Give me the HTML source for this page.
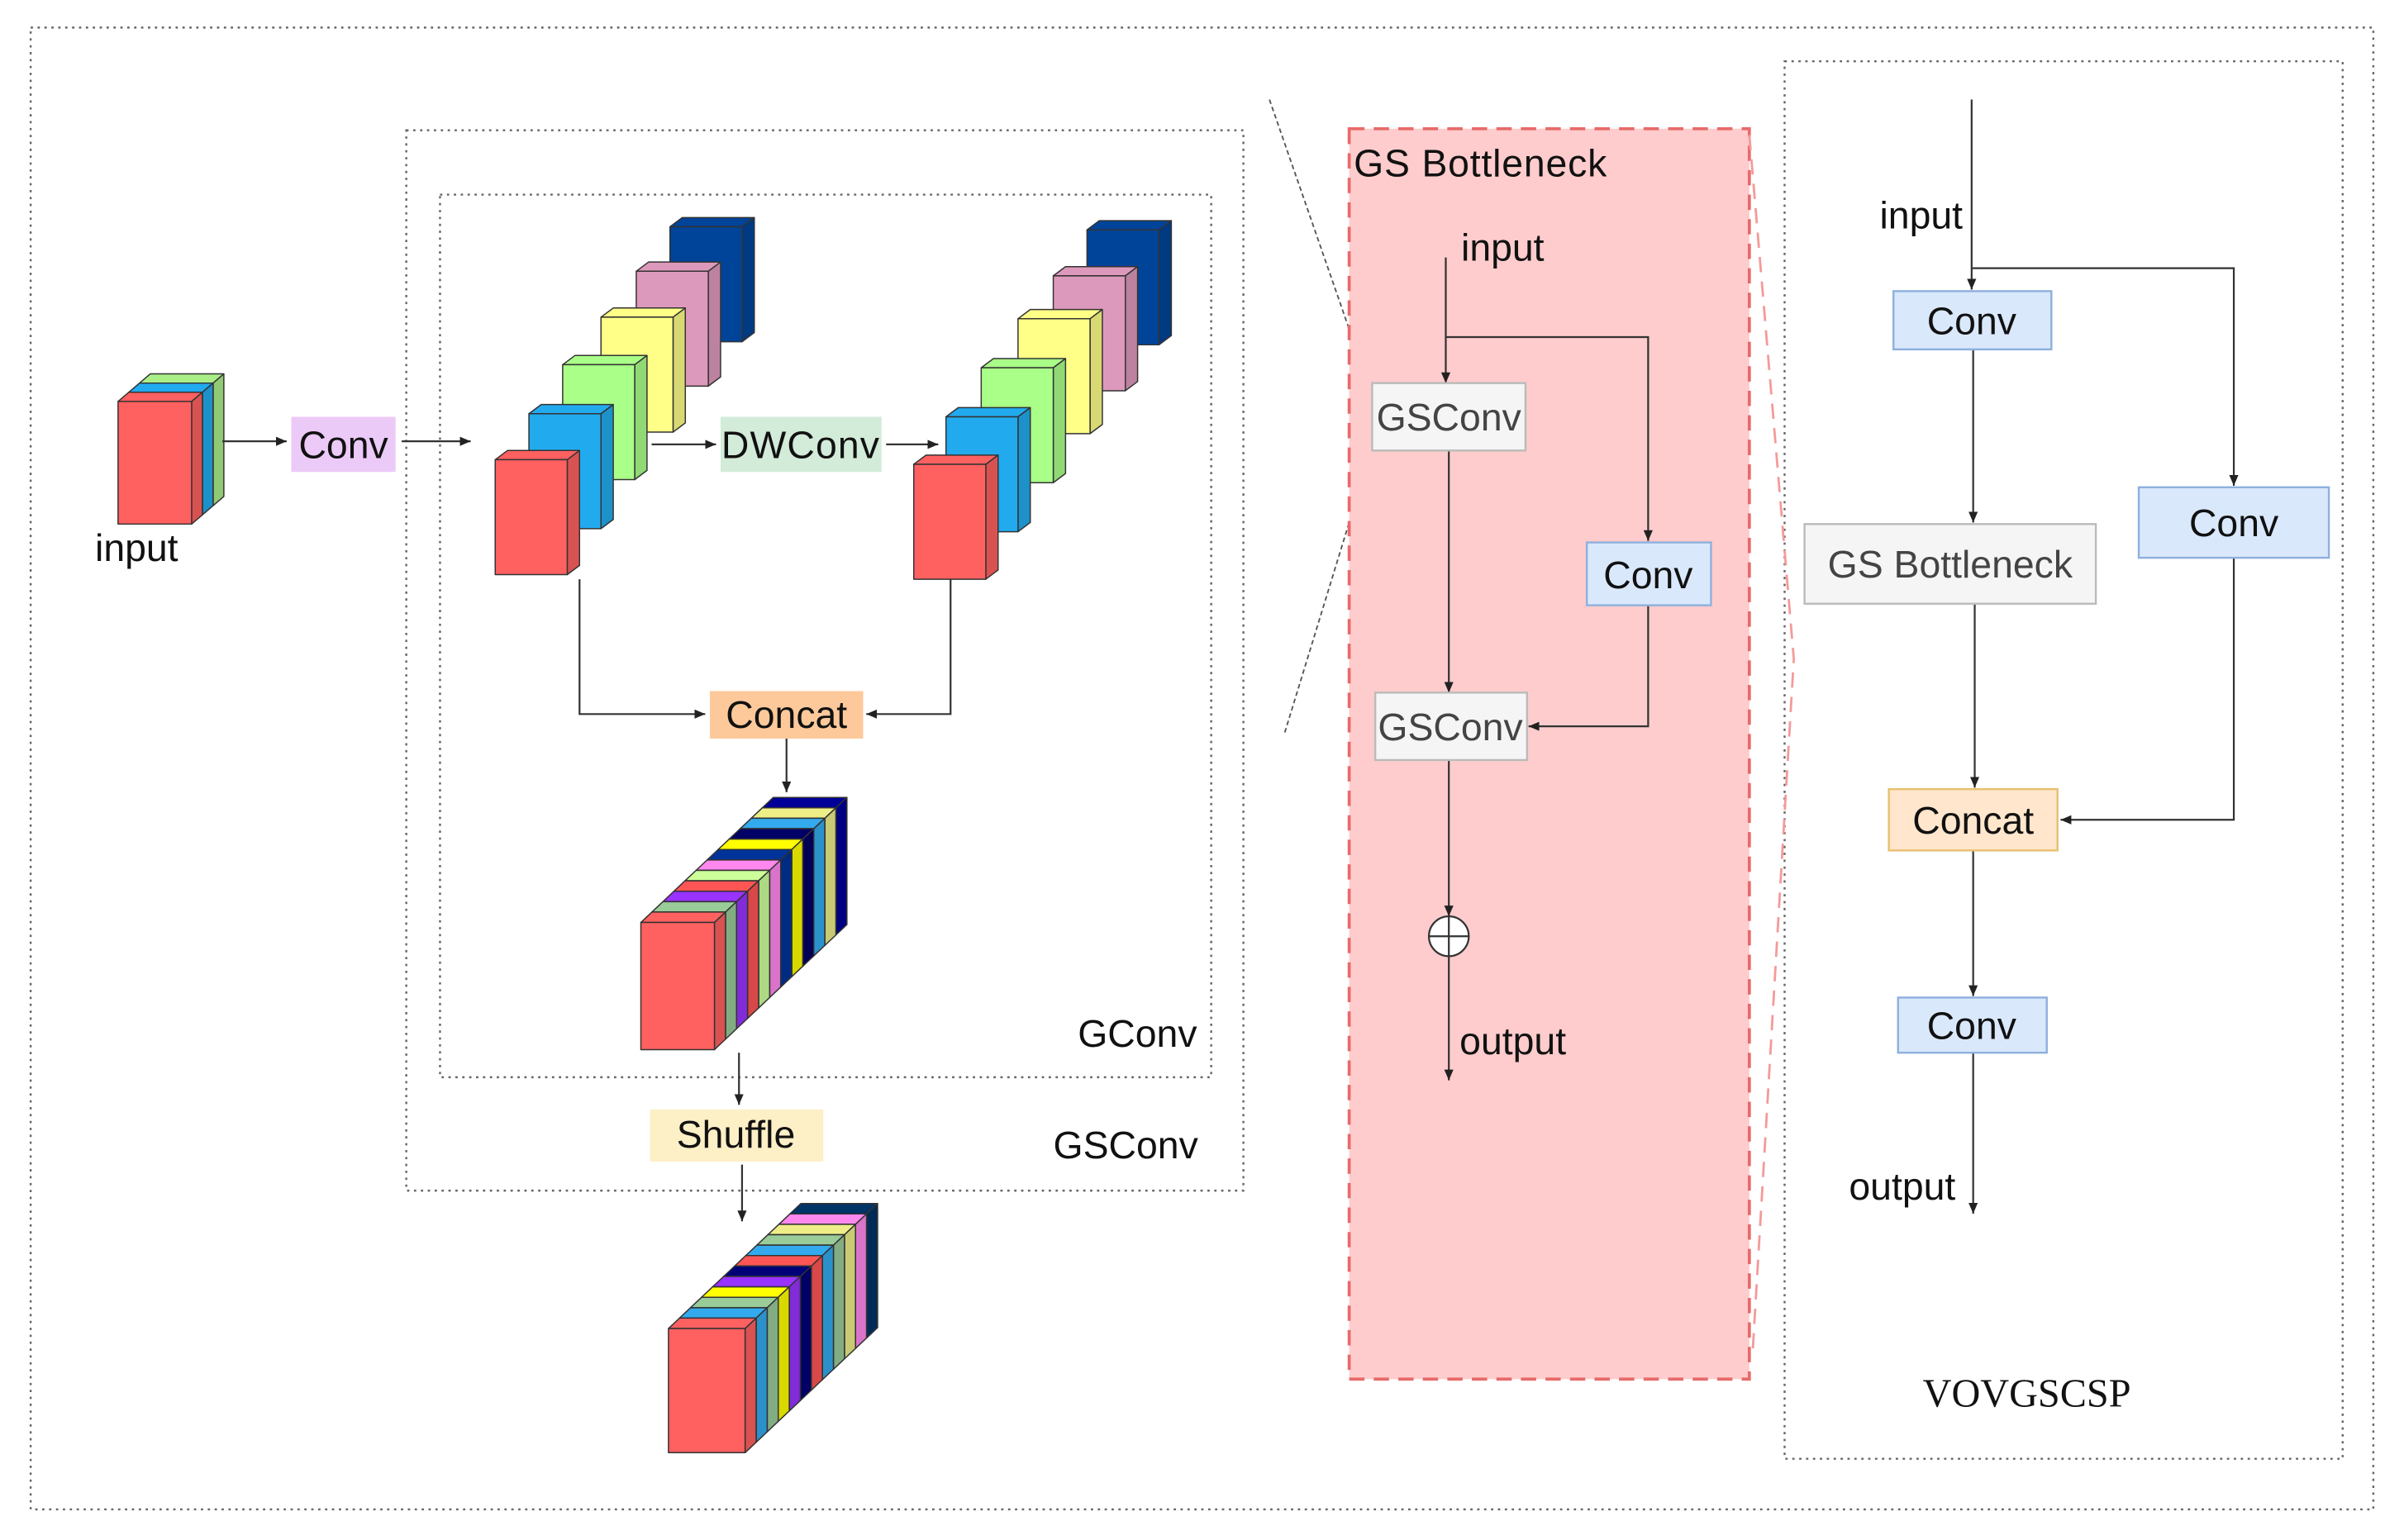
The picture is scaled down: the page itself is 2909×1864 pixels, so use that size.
<!DOCTYPE html>
<html><head><meta charset="utf-8"><style>
html,body{margin:0;padding:0;background:#fff;}
svg{display:block;}
text{font-family:"Liberation Sans",sans-serif;fill:#111;}
</style></head><body>
<svg id="s" width="2909" height="1864" viewBox="0 0 1568 1005" preserveAspectRatio="none" xmlns="http://www.w3.org/2000/svg">
<defs>
<marker id="a" markerWidth="8" markerHeight="8" refX="7" refY="4" orient="auto" markerUnits="userSpaceOnUse"><path d="M0,1 L7,4 L0,7 z" fill="#222"/></marker>
</defs>
<rect x="0" y="0" width="1568" height="1005" fill="#fff"/>
<g fill="none" stroke="#666" stroke-width="1.3" stroke-dasharray="1.5,3">
<rect x="20" y="18" width="1528" height="967"/>
<rect x="265" y="85" width="546" height="692"/>
<rect x="287" y="127" width="503" height="576"/>
<rect x="1164" y="40" width="364" height="912"/>
</g>
<g stroke="#555" stroke-width="1" stroke-dasharray="3,2" fill="none">
<line x1="828" y1="65" x2="895" y2="258"/>
<line x1="838" y1="478" x2="895" y2="292"/>
</g>
<rect x="880" y="84" width="261" height="816" fill="#fecccc" stroke="#e86a6a" stroke-width="2" stroke-dasharray="10,6"/>
<polyline points="1141,88 1170,430 1143,885" fill="none" stroke="#f49a9a" stroke-width="1.5" stroke-dasharray="10,6"/>
<g id="cubes"></g>
<g stroke="#333" stroke-width="1.2" fill="none" marker-end="url(#a)">
<line x1="145" y1="288" x2="187" y2="288"/>
<line x1="262" y1="288" x2="307" y2="288"/>
<line x1="425" y1="290" x2="467" y2="290"/>
<line x1="578" y1="290" x2="612" y2="290"/>
<polyline points="378,378 378,466 460,466"/>
<polyline points="620,378 620,466 565,466"/>
<line x1="513" y1="482" x2="513" y2="517"/>
<line x1="482" y1="687" x2="482" y2="721"/>
<line x1="484" y1="760" x2="484" y2="797"/>
</g>
<rect x="190" y="272" width="68" height="36" fill="#eccaf7"/>
<text x="224" y="299" font-size="25" text-anchor="middle">Conv</text>
<rect x="470" y="272" width="105" height="36" fill="#d3ebd9"/>
<text x="522" y="299" font-size="25" text-anchor="middle" textLength="103">DWConv</text>
<rect x="463" y="451" width="100" height="31" fill="#fdc99b"/>
<text x="513" y="475" font-size="25" text-anchor="middle">Concat</text>
<rect x="424" y="724" width="113" height="34" fill="#fdefc6"/>
<text x="480" y="749" font-size="25" text-anchor="middle">Shuffle</text>
<text x="62" y="366" font-size="25">input</text>
<text x="703" y="683" font-size="25">GConv</text>
<text x="687" y="756" font-size="25">GSConv</text>
<text x="883" y="115" font-size="25" textLength="165">GS Bottleneck</text>
<text x="953" y="170" font-size="25">input</text>
<g stroke="#333" stroke-width="1.2" fill="none" marker-end="url(#a)">
<line x1="943" y1="168" x2="943" y2="250"/>
<polyline points="943,220 1075,220 1075,353"/>
<line x1="945" y1="294" x2="945" y2="452"/>
<polyline points="1075,395 1075,474 997,474"/>
<line x1="945" y1="496" x2="945" y2="598"/>
<line x1="945" y1="624" x2="945" y2="705"/>
</g>
<rect x="895" y="250" width="100" height="44" fill="#f5f5f5" stroke="#bbb" stroke-width="1.3"/>
<text x="945" y="281" font-size="25" text-anchor="middle" style="fill:#444">GSConv</text>
<rect x="1035" y="354" width="81" height="41" fill="#dae8fc" stroke="#8eb0dd" stroke-width="1.3"/>
<text x="1075" y="384" font-size="25" text-anchor="middle">Conv</text>
<rect x="897" y="452" width="99" height="44" fill="#f5f5f5" stroke="#bbb" stroke-width="1.3"/>
<text x="946" y="483" font-size="25" text-anchor="middle" style="fill:#444">GSConv</text>
<circle cx="945" cy="611" r="13" fill="#fff" stroke="#333" stroke-width="1.2"/>
<line x1="932" y1="611" x2="958" y2="611" stroke="#333" stroke-width="1.2"/>
<line x1="945" y1="598" x2="945" y2="624" stroke="#333" stroke-width="1.2"/>
<text x="952" y="688" font-size="25">output</text>
<text x="1226" y="149" font-size="25">input</text>
<g stroke="#333" stroke-width="1.2" fill="none" marker-end="url(#a)">
<line x1="1286" y1="65" x2="1286" y2="189"/>
<polyline points="1286,175 1457,175 1457,317"/>
<line x1="1287" y1="228" x2="1287" y2="341"/>
<line x1="1288" y1="394" x2="1288" y2="514"/>
<polyline points="1457,364 1457,535 1344,535"/>
<line x1="1287" y1="555" x2="1287" y2="650"/>
<line x1="1287" y1="687" x2="1287" y2="792"/>
</g>
<rect x="1235" y="190" width="103" height="38" fill="#dae8fc" stroke="#8eb0dd" stroke-width="1.3"/>
<text x="1286" y="218" font-size="25" text-anchor="middle">Conv</text>
<rect x="1177" y="342" width="190" height="52" fill="#f5f5f5" stroke="#bbb" stroke-width="1.3"/>
<text x="1272" y="377" font-size="25" text-anchor="middle" style="fill:#444">GS Bottleneck</text>
<rect x="1395" y="318" width="124" height="46" fill="#dae8fc" stroke="#8eb0dd" stroke-width="1.3"/>
<text x="1457" y="350" font-size="25" text-anchor="middle">Conv</text>
<rect x="1232" y="515" width="110" height="40" fill="#ffe6cc" stroke="#e8c070" stroke-width="1.3"/>
<text x="1287" y="544" font-size="25" text-anchor="middle">Concat</text>
<rect x="1238" y="651" width="97" height="36" fill="#dae8fc" stroke="#8eb0dd" stroke-width="1.3"/>
<text x="1286" y="678" font-size="25" text-anchor="middle">Conv</text>
<text x="1206" y="783" font-size="25">output</text>
<text x="1322" y="918" font-size="26" text-anchor="middle" style="font-family:'Liberation Serif',serif">VOVGSCSP</text>
</svg>
<script>
(function(){
var g=document.getElementById('cubes'),ns='http://www.w3.org/2000/svg';
function shade(c,f){var n=parseInt(c.slice(1),16),r=(n>>16)&255,gg=(n>>8)&255,b=n&255;
return 'rgb('+Math.round(r*f)+','+Math.round(gg*f)+','+Math.round(b*f)+')';}
function poly(pts,fill){var p=document.createElementNS(ns,'polygon');p.setAttribute('points',pts.map(function(q){return q.join(',')}).join(' '));
p.setAttribute('fill',fill);p.setAttribute('stroke','#333');p.setAttribute('stroke-width','0.8');p.setAttribute('stroke-linejoin','round');g.appendChild(p);}
function cube(x,y,w,h,dx,dy,c){
poly([[x,y],[x+dx,y+dy],[x+w+dx,y+dy],[x+w,y]],shade(c,1.0));
poly([[x+w,y],[x+w+dx,y+dy],[x+w+dx,y+h+dy],[x+w,y+h]],shade(c,0.85));
poly([[x,y],[x+w,y],[x+w,y+h],[x,y+h]],c);}
var ic=['#ff6060','#22aaee','#aaee88'];
for(var i=2;i>=0;i--)cube(77+7*i,262-6*i,48,80,7,-6,ic[i]);
var sc=['#ff6060','#22aaee','#aaff88','#ffff88','#dd99bb','#004499'];
var p1=[[323,300],[345,270],[367,238],[392,207],[415,177],[437,148]];
var p2=[[596,303],[617,272],[640,240],[664,208],[687,180],[709,150]];
for(i=5;i>=0;i--){cube(p1[i][0],p1[i][1],47,75,8,-6,sc[i]);}
for(i=5;i>=0;i--){cube(p2[i][0],p2[i][1],47,75,8,-6,sc[i]);}
var b1=['#ff6060','#99cc99','#9933ff','#ff5555','#ccff99','#ff88ee','#003399','#ffff00','#000066','#33aaee','#eeee88','#000099'];
for(i=b1.length-1;i>=0;i--)cube(418+7.2*i,602-6.8*i,48,83,7.2,-6.8,b1[i]);
var b2=['#ff6060','#33aaee','#99cc99','#ffff00','#9933ff','#000077','#ff5555','#33aaee','#99cc99','#eeee88','#ff88ee','#003366'];
for(i=b2.length-1;i>=0;i--)cube(436+7.2*i,867-6.8*i,50,81,7.2,-6.8,b2[i]);
})();
</script>
</body></html>
